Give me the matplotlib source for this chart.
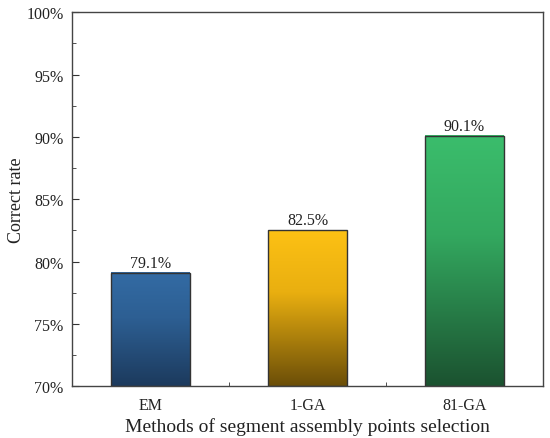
import numpy as np
import matplotlib
matplotlib.use("Agg")
import matplotlib.pyplot as plt
from matplotlib.colors import LinearSegmentedColormap
from matplotlib.ticker import MultipleLocator, PercentFormatter

# ── data ──────────────────────────────────────────────────────────────────────
methods = ["EM", "1-GA", "81-GA"]
correct_rate = [79.1, 82.5, 90.1]
value_labels = ["79.1%", "82.5%", "90.1%"]

# top -> bottom gradient colours per bar
bar_gradients = [
    ["#336ba4", "#2d5f93", "#1c3a5d"],
    ["#fdc114", "#e9af10", "#6b4e08"],
    ["#3bbd6c", "#33a85f", "#1b5230"],
]

plt.rcParams["font.family"] = ["Liberation Serif", "DejaVu Serif"]

fig, ax = plt.subplots(figsize=(5.5, 4.39), dpi=100)
fig.subplots_adjust(left=0.131, right=0.987, top=0.970, bottom=0.118)

ymin, ymax = 70, 100
x = np.arange(len(methods))
bars = ax.bar(x, np.array(correct_rate) - ymin, width=0.5, bottom=ymin,
              facecolor="none", edgecolor="#333333", linewidth=1.0, zorder=3)

# vertical gradient inside each bar
for bar, cols in zip(bars, bar_gradients):
    cmap = LinearSegmentedColormap.from_list("g", [(0, cols[2]), (0.6, cols[1]), (1, cols[0])])
    grad = np.linspace(0, 1, 256).reshape(-1, 1)
    x0, w = bar.get_x(), bar.get_width()
    y0, h = bar.get_y(), bar.get_height()
    ax.imshow(grad, cmap=cmap, origin="lower", aspect="auto",
              extent=(x0, x0 + w, y0, y0 + h), zorder=2)

for xi, v, lab in zip(x, correct_rate, value_labels):
    ax.text(xi, v + 0.15, lab, ha="center", va="bottom", fontsize=11.5, color="#222222")

ax.set_xlim(-0.5, 2.5)
ax.set_ylim(ymin, ymax)
ax.set_xticks(x)
ax.set_xticklabels(methods)
ax.xaxis.set_minor_locator(MultipleLocator(0.5))
ax.yaxis.set_major_locator(MultipleLocator(5))
ax.yaxis.set_minor_locator(MultipleLocator(2.5))
ax.yaxis.set_major_formatter(PercentFormatter(decimals=0))

ax.tick_params(axis="both", which="both", direction="in", top=False, right=False,
               labelsize=11.5, colors="#333333", labelcolor="#222222")
ax.tick_params(which="major", length=5)
ax.tick_params(which="minor", length=3)
ax.tick_params(axis="x", pad=8)
ax.tick_params(axis="y", pad=6)

for s in ax.spines.values():
    s.set_color("#444444")
    s.set_linewidth(1.0)

ax.set_ylabel("Correct rate", fontsize=13, color="#222222", labelpad=1)
ax.set_xlabel("Methods of segment assembly points selection", fontsize=14,
              color="#222222", labelpad=3)

fig.savefig("out.png", dpi=100)
